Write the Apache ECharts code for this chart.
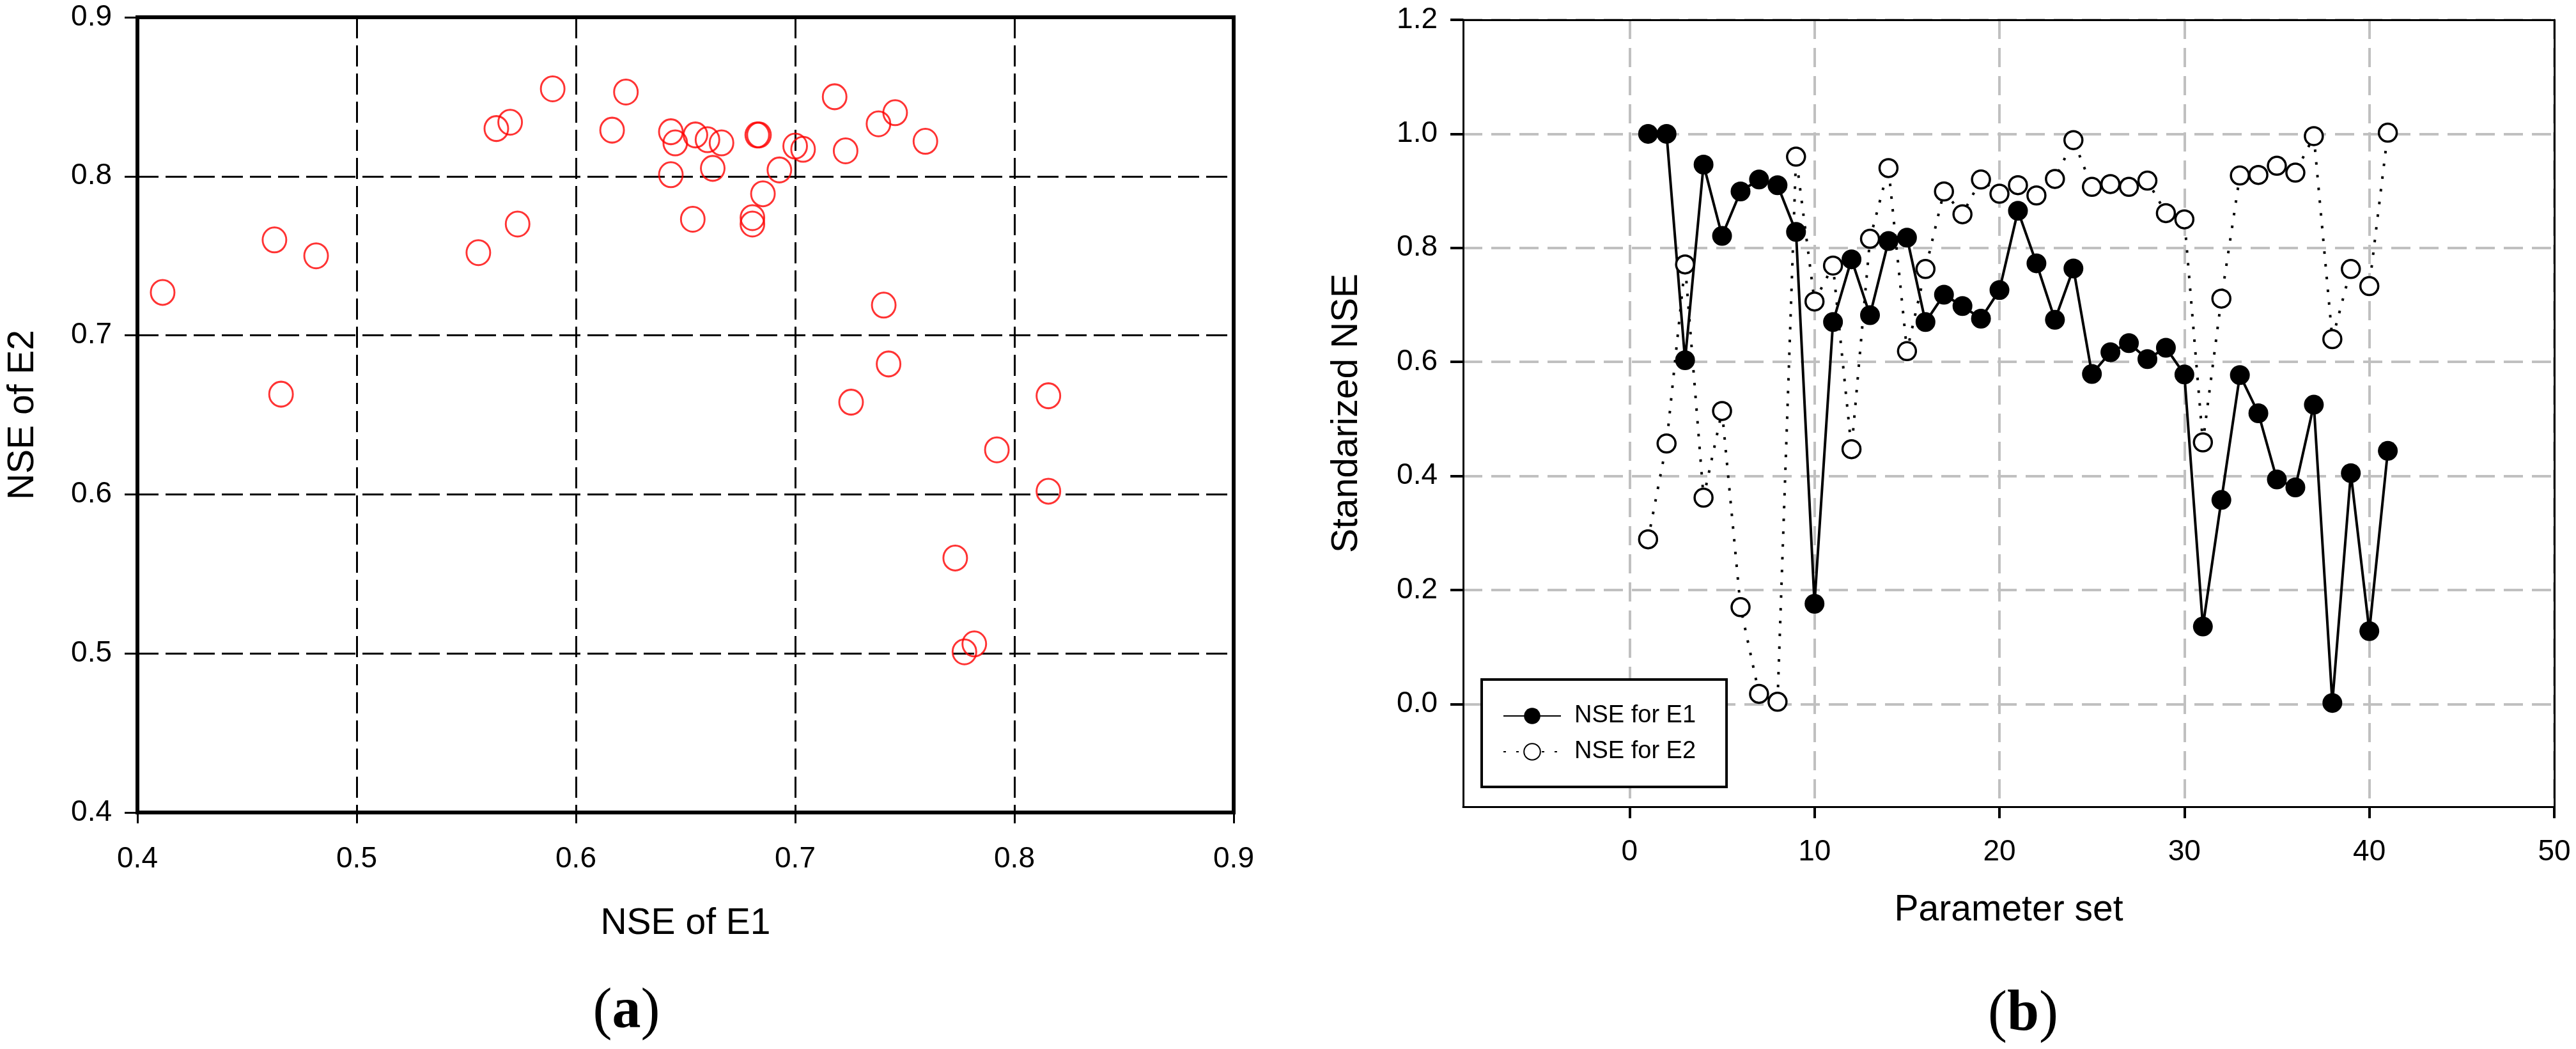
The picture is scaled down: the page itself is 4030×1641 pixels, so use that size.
<!DOCTYPE html>
<html>
<head>
<meta charset="utf-8">
<script src="https://cdn.jsdelivr.net/npm/echarts@6/dist/echarts.min.js"></script>
<style>
  html, body { margin: 0; padding: 0; background: #fff; }
  #chart { width: 4030px; height: 1641px; }
</style>
</head>
<body>
<div id="chart"></div>
<script>
  // (a) NSE of E1 vs NSE of E2, one point per parameter set
  const scatterE1 = [0.8155, 0.8155, 0.7404, 0.7426, 0.7255, 0.6453, 0.6624, 0.6600, 0.7594, 0.4115,
    0.6835, 0.6805, 0.6805, 0.7456, 0.7036, 0.6545, 0.5734, 0.5555, 0.4625, 0.4815,
    0.6228, 0.5894, 0.6165, 0.5637, 0.5700, 0.6433, 0.7180, 0.7230, 0.7380, 0.6928,
    0.7000, 0.6827, 0.6664, 0.6433, 0.6533, 0.4655, 0.7920, 0.7730, 0.7772, 0.7817, 0.6853];
  const scatterE2 = [0.602, 0.662, 0.719, 0.682, 0.658, 0.821, 0.805, 0.823, 0.822, 0.727,
    0.826, 0.774, 0.770, 0.840, 0.817, 0.826, 0.770, 0.752, 0.760, 0.750,
    0.853, 0.855, 0.829, 0.830, 0.834, 0.828, 0.850, 0.816, 0.833, 0.804,
    0.819, 0.826, 0.821, 0.801, 0.773, 0.663, 0.628, 0.560, 0.501, 0.506, 0.789];

  // (b) standardized NSE per parameter set
  const parameterSets = [1, 2, 3, 4, 5, 6, 7, 8, 9, 10, 11, 12, 13, 14, 15, 16, 17, 18, 19, 20,
    21, 22, 23, 24, 25, 26, 27, 28, 29, 30, 31, 32, 33, 34, 35, 36, 37, 38, 39, 40, 41];
  const stdE1 = [1.000, 1.000, 0.603, 0.946, 0.821, 0.899, 0.920, 0.910, 0.828, 0.176,
    0.670, 0.780, 0.682, 0.812, 0.818, 0.670, 0.718, 0.698, 0.676, 0.726,
    0.865, 0.773, 0.674, 0.764, 0.579, 0.617, 0.633, 0.605, 0.625, 0.578,
    0.136, 0.358, 0.577, 0.510, 0.394, 0.380, 0.525, 0.002, 0.405, 0.128, 0.444];
  const stdE2 = [0.289, 0.457, 0.771, 0.362, 0.514, 0.170, 0.018, 0.004, 0.960, 0.706,
    0.769, 0.447, 0.816, 0.940, 0.619, 0.763, 0.899, 0.859, 0.920, 0.895,
    0.910, 0.892, 0.921, 0.989, 0.907, 0.912, 0.907, 0.918, 0.861, 0.850,
    0.459, 0.711, 0.927, 0.928, 0.944, 0.932, 0.996, 0.640, 0.763, 0.733, 1.002];

  const xTicksB = [0, 10, 20, 30, 40, 50];
  const yTicksB = [0, 0.2, 0.4, 0.6, 0.8, 1.0, 1.2];
  const seriesNames = ['NSE for E1', 'NSE for E2'];

  const FONT = '"Liberation Sans", Arial, sans-serif';
  const SERIF = '"Liberation Serif", "Times New Roman", serif';
  const tickLabel = { fontSize: 46, fontFamily: FONT, color: '#000' };
  const axisName = { fontSize: 57, fontFamily: FONT, color: '#000' };

  const chart = echarts.init(document.getElementById('chart'), null, { renderer: 'canvas' });

  const blackDash = { color: '#000', width: 3, type: [33, 11] };
  const grayDash = { color: '#c0c0c0', width: 4, type: [30, 14] };

  // plain axis used only to draw the top / right frame of panel (b) above its grid lines
  function frameAxis(gridIndex, position, min, max) {
    return {
      gridIndex, position, type: 'value', min, max,
      axisLine: { show: true, onZero: false, lineStyle: { color: '#000', width: 3 } },
      axisTick: { show: false }, axisLabel: { show: false }, splitLine: { show: false }
    };
  }

  function panelTag(letter, x, y) {
    return {
      type: 'text', x, y, z: 10,
      style: {
        text: '{p|(}{l|' + letter + '}{p|)}', align: 'center', verticalAlign: 'middle',
        rich: {
          p: { fontSize: 90, fontFamily: SERIF, fill: '#000' },
          l: { fontSize: 90, fontWeight: 'bold', fontFamily: SERIF, fill: '#000' }
        }
      }
    };
  }

  chart.setOption({
    animation: false,
    backgroundColor: '#fff',
    grid: [
      { left: 215, top: 27, width: 1715, height: 1244, show: true, borderColor: '#000', borderWidth: 6 },
      { left: 2289, top: 31, width: 1707, height: 1231, show: false }
    ],
    xAxis: [
      {
        gridIndex: 0, type: 'value', min: 0.4, max: 0.9, interval: 0.1,
        name: 'NSE of E1', nameLocation: 'middle', nameGap: 146, nameTextStyle: axisName,
        axisLine: { show: true, onZero: false, lineStyle: { color: '#000', width: 6 } },
        axisTick: { show: true, inside: false, length: 17, lineStyle: { color: '#000', width: 3 } },
        axisLabel: Object.assign({ margin: 50, formatter: (v) => v.toFixed(1) }, tickLabel),
        splitLine: { show: true, lineStyle: blackDash }
      },
      {
        gridIndex: 1, type: 'value', min: -9, max: 50,
        name: 'Parameter set', nameLocation: 'middle', nameGap: 134, nameTextStyle: axisName,
        axisLine: { show: true, onZero: false, lineStyle: { color: '#000', width: 3 } },
        axisTick: { show: true, inside: false, length: 18, customValues: xTicksB, lineStyle: { color: '#000', width: 4 } },
        axisLabel: Object.assign({ margin: 48, customValues: xTicksB, formatter: (v) => String(v) }, tickLabel),
        splitLine: { show: true, lineStyle: grayDash }
      },
      frameAxis(1, 'top', -9, 50)
    ],
    yAxis: [
      {
        gridIndex: 0, type: 'value', min: 0.4, max: 0.9, interval: 0.1,
        name: 'NSE of E2', nameLocation: 'middle', nameGap: 150, nameTextStyle: axisName,
        axisLine: { show: true, onZero: false, lineStyle: { color: '#000', width: 6 } },
        axisTick: { show: true, inside: false, length: 20, lineStyle: { color: '#000', width: 3 } },
        axisLabel: Object.assign({ margin: 40, formatter: (v) => v.toFixed(1) }, tickLabel),
        splitLine: { show: true, lineStyle: blackDash }
      },
      {
        gridIndex: 1, type: 'value', min: -0.18, max: 1.2,
        name: 'Standarized NSE', nameLocation: 'middle', nameGap: 153, nameTextStyle: axisName,
        axisLine: { show: true, onZero: false, lineStyle: { color: '#000', width: 3 } },
        axisTick: { show: true, inside: false, length: 20, customValues: yTicksB, lineStyle: { color: '#000', width: 4 } },
        axisLabel: Object.assign({ margin: 40, customValues: yTicksB, formatter: (v) => v.toFixed(1) }, tickLabel),
        splitLine: { show: true, lineStyle: grayDash }
      },
      frameAxis(1, 'right', -0.18, 1.2)
    ],
    legend: {
      orient: 'vertical',
      left: 2318, top: 1063,
      padding: [38, 48, 36, 33],
      itemWidth: 90, itemHeight: 32, itemGap: 18,
      borderColor: '#000', borderWidth: 4,
      backgroundColor: '#fff',
      textStyle: { fontSize: 38, fontFamily: FONT, color: '#000', padding: [0, 0, 0, 16] },
      data: seriesNames
    },
    graphic: [
      panelTag('a', 980, 1584),
      panelTag('b', 3165, 1588)
    ],
    series: [
      {
        type: 'scatter', xAxisIndex: 0, yAxisIndex: 0,
        symbol: 'circle', symbolSize: [37, 39],
        itemStyle: { color: 'rgba(0,0,0,0)', borderColor: '#ff0000', borderWidth: 3 },
        data: scatterE1.map((x, i) => [x, scatterE2[i]])
      },
      {
        name: seriesNames[1], type: 'line', xAxisIndex: 1, yAxisIndex: 1,
        symbol: 'circle', symbolSize: 28, showAllSymbol: true,
        lineStyle: { color: '#000', width: 4, type: [4, 16] },
        itemStyle: { color: '#fff', borderColor: '#000', borderWidth: 3.5 },
        data: parameterSets.map((p, i) => [p, stdE2[i]])
      },
      {
        name: seriesNames[0], type: 'line', xAxisIndex: 1, yAxisIndex: 1,
        symbol: 'circle', symbolSize: 31, showAllSymbol: true,
        lineStyle: { color: '#000', width: 4 },
        itemStyle: { color: '#000', borderColor: '#000', borderWidth: 0 },
        data: parameterSets.map((p, i) => [p, stdE1[i]])
      }
    ]
  });
</script>
</body>
</html>
